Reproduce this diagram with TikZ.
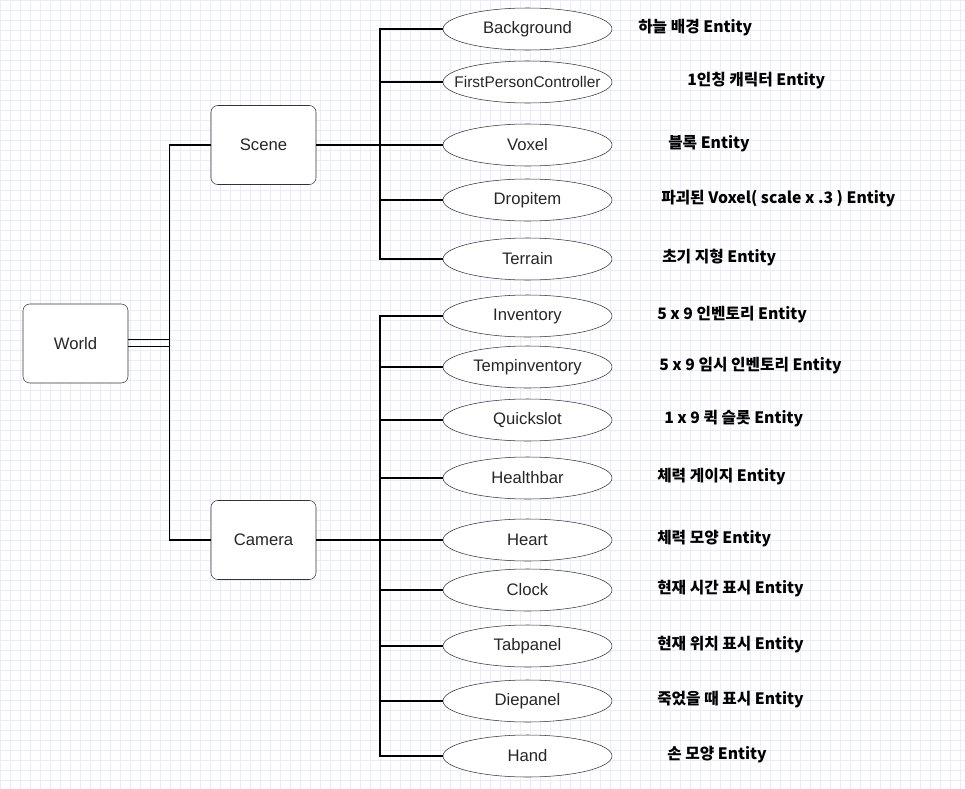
\documentclass[tikz,border=0pt]{standalone}
\usepackage{fontspec}
\setmainfont{Liberation Sans}
\newfontfamily\kr{Noto Sans CJK KR}
\usetikzlibrary{shapes.geometric}
\begin{document}
\begin{tikzpicture}[x=0.75pt,y=-0.75pt,
 box/.style={draw=black!80,rounded corners=5pt,fill=white,minimum width=105*0.75pt,minimum height=79*0.75pt,font=\fontsize{12.5}{14}\selectfont,text=black!85},
 ell/.style={ellipse,draw=black!80,fill=white,minimum width=169*0.75pt,minimum height=42*0.75pt,inner sep=0pt},
 etext/.style={inner sep=0pt,font=\fontsize{12.5}{14}\selectfont,text=black!85},
 lab/.style={anchor=west,inner sep=0pt,font=\kr\bfseries\fontsize{11.8}{14}\selectfont},
 wire/.style={draw=black,line width=1pt}]
\useasboundingbox (0,0) rectangle (965,789);
\fill[white] (0,0) rectangle (965,789);
\foreach \i in {0,10,...,960}{\draw[blue!8,line width=0.5pt] (\i,0) -- (\i,789);}
\foreach \i in {0,10,...,780}{\draw[blue!8,line width=0.5pt] (0,\i) -- (965,\i);}
\node[box] (world) at (75.5,343.5) {World};
\node[box] (scene) at (263.5,145) {Scene};
\node[box] (camera) at (263.5,540) {Camera};
\coordinate (sb) at (380,145);
\coordinate (cb) at (380,540);
\foreach \n/\t/\y/\lx/\l in {
 e1/Background/29/638/하늘 배경 Entity,
 e2/{\fontsize{11.6}{14}\selectfont FirstPersonController}/82/687/1인칭 캐릭터 Entity,
 e3/Voxel/145/668/블록 Entity,
 e4/Dropitem/200/661/파괴된 Voxel( scale x .3 ) Entity,
 e5/Terrain/259/662/초기 지형 Entity,
 e6/Inventory/316/657/5 x 9 인벤토리 Entity,
 e7/Tempinventory/367/659/5 x 9 임시 인벤토리 Entity,
 e8/Quickslot/420/664/1 x 9 퀵 슬롯 Entity,
 e9/Healthbar/478/657/체력 게이지 Entity,
 e10/Heart/540/657/체력 모양 Entity,
 e11/Clock/590/657/현재 시간 표시 Entity,
 e12/Tabpanel/646/657/현재 위치 표시 Entity,
 e13/Diepanel/701/657/죽었을 때 표시 Entity,
 e14/Hand/756/667/손 모양 Entity}{
 \node[ell] (\n) at (527.5,\y) {};
 \node[etext] (t\n) at (\n.center) {\t};
 \node[lab] (l\n) at (\lx,\y-1) {\l};
}
\foreach \n in {e1,e2,e3,e4,e5}{\draw[wire] (sb) |- (\n.west);}
\foreach \n in {e6,e7,e8,e9,e10,e11,e12,e13,e14}{\draw[wire] (cb) |- (\n.west);}
\draw[wire] (scene.east) -- (sb);
\draw[wire] (camera.east) -- (cb);
\draw[wire] ([yshift=-3*0.75pt]world.east) -- ++(41,0) |- (scene.west);
\draw[wire] ([yshift=4*0.75pt]world.east) -- ++(41,0) |- (camera.west);
\end{tikzpicture}
\end{document}
